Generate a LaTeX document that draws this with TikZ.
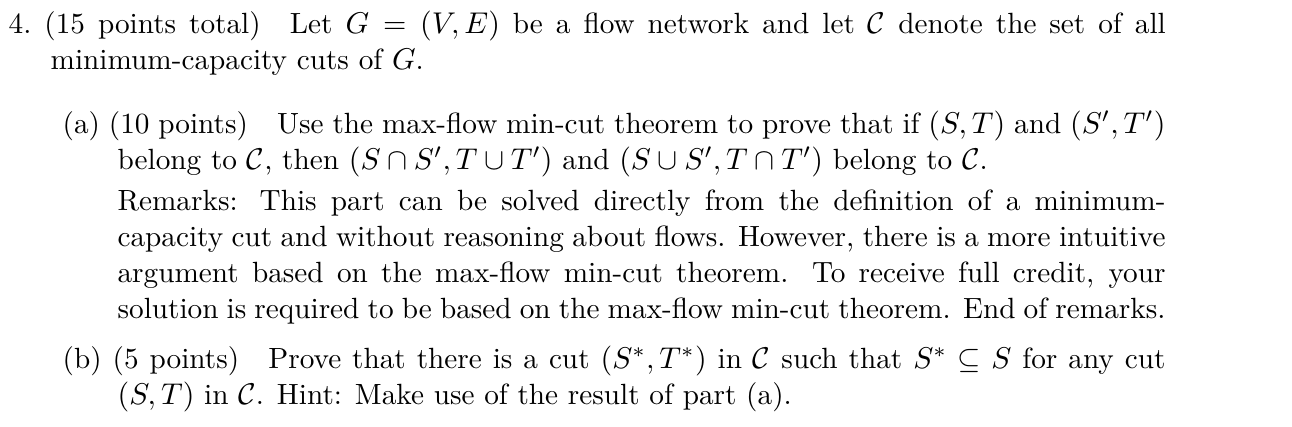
\documentclass[tikz,border=0pt]{standalone}
\usepackage{amsmath,amssymb}
\begin{document}
\begin{tikzpicture}[x=1pt,y=1pt,
  para/.style={anchor=north west,inner sep=0pt,align=justify,font=\fontsize{9.75}{12}\selectfont}]
\useasboundingbox (0,0) rectangle (430.67,-142.33);
\node[para,text width=371.7pt] (p1) at (16.7,-3.5) {\noindent\hspace*{-14pt}%
4.\ (15 points total)\quad Let $G=(V,E)$ be a flow network and let $\mathcal{C}$ denote the set of all\linebreak minimum-capacity cuts of $G$.};
\node[para,text width=349.3pt] (pa) at (39,-36.8) {\noindent\hspace*{-18.3pt}%
(a) (10 points)\quad Use the max-flow min-cut theorem to prove that if $(S,T)$ and $(S',T')$\linebreak belong to $\mathcal{C}$, then $(S\cap S',T\cup T')$ and $(S\cup S',T\cap T')$ belong to $\mathcal{C}$.};
\node[para,text width=349.3pt] (pr) at (39,-63) {\noindent
Remarks: This part can be solved directly from the definition of a minimum-\linebreak capacity cut and without reasoning about flows. However, there is a more intuitive\linebreak argument based on the max-flow min-cut theorem. To receive full credit, your\linebreak solution is required to be based on the max-flow min-cut theorem. End of remarks.};
\node[para,text width=349.3pt] (pb) at (39,-115.2) {\noindent\hspace*{-18.3pt}%
(b) (5 points)\quad Prove that there is a cut $(S^*,T^*)$ in $\mathcal{C}$ such that $S^*\subseteq S$ for any cut\linebreak $(S,T)$ in $\mathcal{C}$. Hint: Make use of the result of part (a).};
\end{tikzpicture}
\end{document}
